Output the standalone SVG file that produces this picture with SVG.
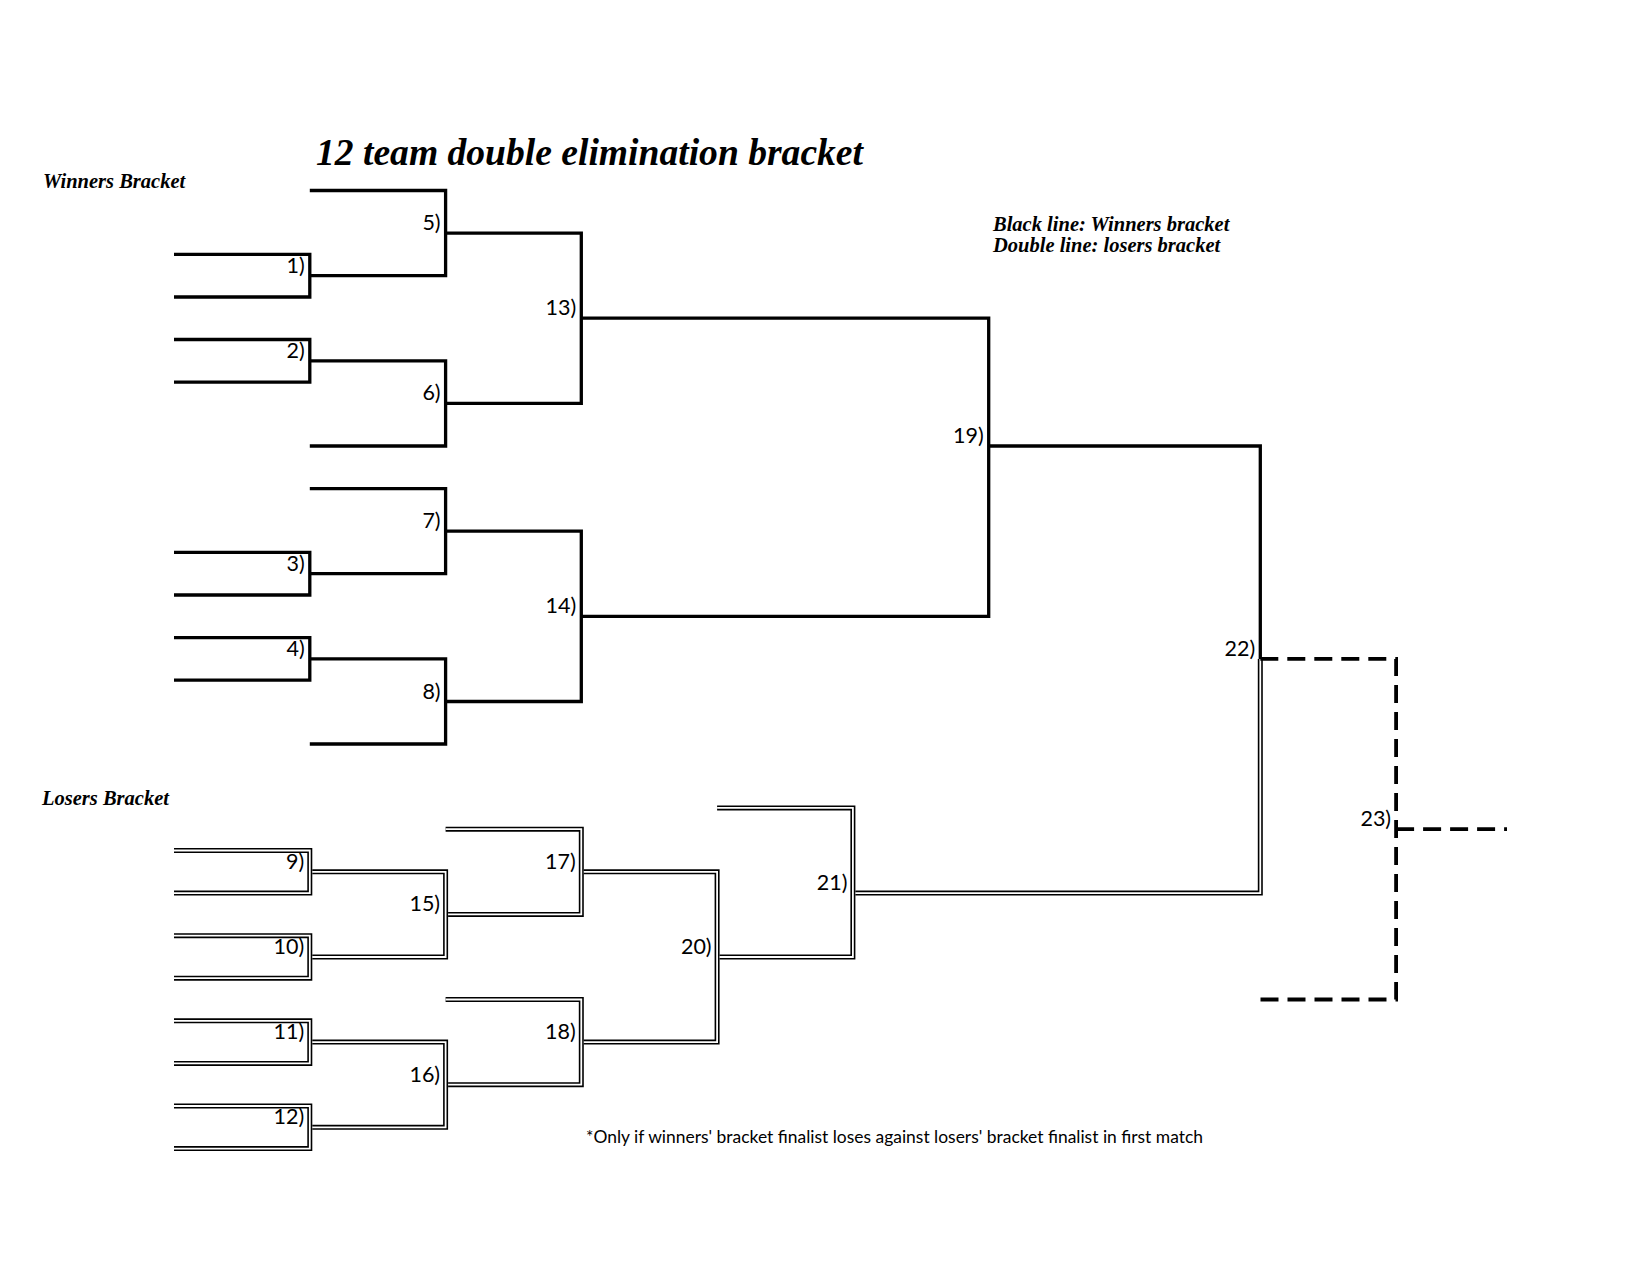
<svg xmlns="http://www.w3.org/2000/svg" width="1650" height="1275" viewBox="0 0 1650 1275">
<style>
.bg{fill:#ffffff}
.w{fill:none;stroke:#000;stroke-width:3.3;stroke-linejoin:miter;stroke-linecap:butt}
.dk{fill:none;stroke:#000;stroke-width:5;stroke-linejoin:miter;stroke-linecap:butt}
.dw{fill:none;stroke:#fff;stroke-width:1.8;stroke-linejoin:miter;stroke-linecap:butt}
.ds{fill:none;stroke:#000;stroke-width:3.8;stroke-dasharray:18 9;stroke-linecap:butt}
.lb{font-family:Lato,"Noto Sans","Liberation Sans",sans-serif;font-size:21.5px;fill:#000;text-anchor:end}
.hd{font-family:"Liberation Serif","Times New Roman",serif;font-style:italic;font-weight:bold;fill:#000}
.note{font-family:Lato,"Noto Sans","Liberation Sans",sans-serif;font-size:17px;fill:#000}
</style>
<defs>
<path id="l9" d="M174,850.5 H309.8 V893.1 H174"/>
<path id="l10" d="M174,935.7 H309.8 V978.2 H174"/>
<path id="l11" d="M174,1020.8 H309.8 V1063.4 H174"/>
<path id="l12" d="M174,1106 H309.8 V1148.6 H174"/>
<path id="l15" d="M312.3,871.8 H445.6 V957 H312.3"/>
<path id="l16" d="M312.3,1042.1 H445.6 V1127.3 H312.3"/>
<path id="l17" d="M445.6,829.2 H581.3 V914.4 H448.1"/>
<path id="l18" d="M445.6,999.5 H581.3 V1084.7 H448.1"/>
<path id="l20" d="M583.8,871.8 H717.1 V1042.1 H583.8"/>
<path id="l21" d="M717.1,807.9 H852.9 V957 H719.6"/>
<path id="l22" d="M855.4,893.1 H1260.3 V658.9"/>
</defs>
<rect class="bg" x="0" y="0" width="1650" height="1275"/>

<g id="titles">
<text class="hd" x="316" y="165" font-size="37" textLength="547" lengthAdjust="spacingAndGlyphs">12 team double elimination bracket</text>
<text class="hd" x="43" y="187.5" font-size="20.5">Winners Bracket</text>
<text class="hd" x="42" y="804.5" font-size="20.5">Losers Bracket</text>
<text class="hd" x="993" y="230.5" font-size="20.5">Black line: Winners bracket</text>
<text class="hd" x="993" y="251.5" font-size="20.5">Double line: losers bracket</text>
<text class="note" x="586" y="1142.5" textLength="617" lengthAdjust="spacingAndGlyphs">*Only if winners' bracket finalist loses against losers' bracket finalist in first match</text>
</g>

<g id="connectors">
<g id="winners-lines">
<path class="w" d="M174,254.4 H309.8 V297 H174"/>
<path class="w" d="M174,339.5 H309.8 V382.1 H174"/>
<path class="w" d="M174,552.4 H309.8 V595 H174"/>
<path class="w" d="M174,637.6 H309.8 V680.2 H174"/>
<path class="w" d="M309.8,190.5 H445.6 V275.7 H309.8"/>
<path class="w" d="M309.8,360.8 H445.6 V446 H309.8"/>
<path class="w" d="M309.8,488.6 H445.6 V573.7 H309.8"/>
<path class="w" d="M309.8,658.9 H445.6 V744 H309.8"/>
<path class="w" d="M445.6,233.1 H581.3 V403.4 H445.6"/>
<path class="w" d="M445.6,531.1 H581.3 V701.5 H445.6"/>
<path class="w" d="M581.3,318.2 H988.7 V616.3 H581.3"/>
<path class="w" d="M988.7,446 H1260.3 V658.9"/>
</g>
<g id="losers-lines">
<use href="#l9" class="dk"/><use href="#l10" class="dk"/><use href="#l11" class="dk"/><use href="#l12" class="dk"/>
<use href="#l15" class="dk"/><use href="#l16" class="dk"/><use href="#l17" class="dk"/><use href="#l18" class="dk"/>
<use href="#l20" class="dk"/><use href="#l21" class="dk"/><use href="#l22" class="dk"/>
<use href="#l9" class="dw"/><use href="#l10" class="dw"/><use href="#l11" class="dw"/><use href="#l12" class="dw"/>
<use href="#l15" class="dw"/><use href="#l16" class="dw"/><use href="#l17" class="dw"/><use href="#l18" class="dw"/>
<use href="#l20" class="dw"/><use href="#l21" class="dw"/><use href="#l22" class="dw"/>
</g>
<g id="final-dashed">
<path class="ds" d="M1260.3,658.9 H1396.1 V999.5 H1260.3"/>
<path class="ds" d="M1396.1,829.2 H1507"/>
</g>
</g>

<g id="m1"><text class="lb" x="304.8" y="272.7">1)</text></g>
<g id="m2"><text class="lb" x="304.8" y="357.8">2)</text></g>
<g id="m3"><text class="lb" x="304.8" y="570.7">3)</text></g>
<g id="m4"><text class="lb" x="304.8" y="655.9">4)</text></g>
<g id="m5"><text class="lb" x="440.6" y="230.1">5)</text></g>
<g id="m6"><text class="lb" x="440.6" y="400.4">6)</text></g>
<g id="m7"><text class="lb" x="440.6" y="528.1">7)</text></g>
<g id="m8"><text class="lb" x="440.6" y="698.5">8)</text></g>
<g id="m13"><text class="lb" x="576.3" y="315.2">13)</text></g>
<g id="m14"><text class="lb" x="576.3" y="613.3">14)</text></g>
<g id="m19"><text class="lb" x="983.7" y="443">19)</text></g>
<g id="m22"><text class="lb" x="1255.3" y="655.9">22)</text></g>
<g id="m23"><text class="lb" x="1391.1" y="826.2">23)</text></g>
<g id="m9"><text class="lb" x="304.3" y="868.8">9)</text></g>
<g id="m10"><text class="lb" x="304.3" y="954">10)</text></g>
<g id="m11"><text class="lb" x="304.3" y="1039.1">11)</text></g>
<g id="m12"><text class="lb" x="304.3" y="1124.3">12)</text></g>
<g id="m15"><text class="lb" x="440.1" y="911.4">15)</text></g>
<g id="m16"><text class="lb" x="440.1" y="1081.7">16)</text></g>
<g id="m17"><text class="lb" x="575.8" y="868.8">17)</text></g>
<g id="m18"><text class="lb" x="575.8" y="1039.1">18)</text></g>
<g id="m20"><text class="lb" x="711.6" y="954">20)</text></g>
<g id="m21"><text class="lb" x="847.4" y="890.1">21)</text></g>
</svg>
